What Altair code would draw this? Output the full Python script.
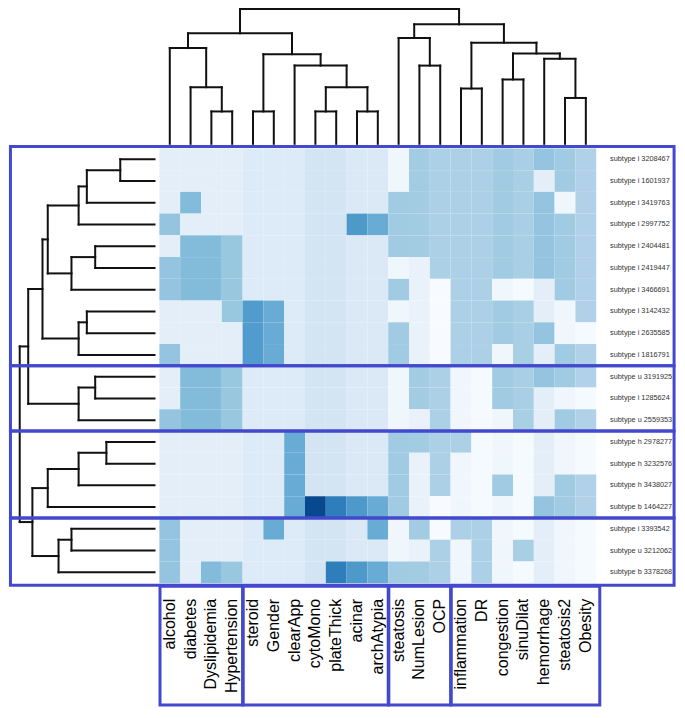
import altair as alt
import pandas as pd

# ---------------- data ----------------
col_labels = ["alcohol", "diabetes", "Dyslipidemia", "Hypertension", "steroid", "Gender",
              "clearApp", "cytoMono", "plateThick", "acinar", "archAtypia", "steatosis",
              "NumLesion", "OCP", "inflammation", "DR", "congestion", "sinuDilat",
              "hemorrhage", "steatosis2", "Obesity"]

row_labels = ["subtype i 3208467", "subtype i 1601937", "subtype i 3419763", "subtype i 2997752",
              "subtype i 2404481", "subtype i 2419447", "subtype i 3466691", "subtype i 3142432",
              "subtype i 2635585", "subtype i 1816791", "subtype u 3191925", "subtype i 1285624",
              "subtype u 2559353", "subtype h 2978277", "subtype h 3232576", "subtype h 3438027",
              "subtype b 1464227", "subtype i 3393542", "subtype u 3212062", "subtype b 3378268"]

values = [
    [.10, .10, .10, .10, .13, .13, .13, .18, .18, .14, .14, .04, .36, .33, .33, .33, .37, .34, .40, .37, .32],
    [.10, .10, .10, .10, .13, .13, .13, .18, .18, .14, .14, .04, .36, .33, .33, .33, .37, .34, .10, .37, .32],
    [.10, .44, .10, .10, .13, .13, .13, .18, .18, .14, .14, .37, .36, .33, .33, .33, .37, .34, .40, .04, .32],
    [.40, .10, .10, .10, .13, .13, .13, .18, .18, .59, .51, .37, .36, .33, .33, .33, .37, .34, .40, .37, .32],
    [.10, .44, .44, .39, .13, .13, .13, .18, .18, .14, .14, .37, .36, .33, .33, .33, .37, .34, .40, .37, .32],
    [.40, .44, .44, .39, .13, .13, .13, .18, .18, .14, .14, .04, .07, .33, .33, .33, .37, .34, .40, .37, .32],
    [.40, .44, .44, .39, .13, .13, .13, .18, .18, .14, .14, .37, .07, .00, .33, .33, .04, .01, .10, .37, .32],
    [.10, .10, .10, .39, .58, .51, .13, .18, .18, .14, .14, .04, .07, .00, .33, .33, .37, .34, .10, .04, .32],
    [.10, .10, .10, .10, .58, .51, .13, .18, .18, .14, .14, .37, .07, .00, .33, .33, .37, .34, .40, .04, .01],
    [.40, .10, .10, .10, .58, .51, .13, .18, .18, .14, .14, .37, .07, .00, .33, .33, .04, .34, .10, .37, .32],
    [.10, .44, .44, .39, .13, .13, .13, .18, .18, .14, .14, .04, .36, .33, .04, .01, .37, .34, .40, .37, .32],
    [.10, .44, .44, .39, .13, .13, .13, .18, .18, .14, .14, .04, .36, .33, .04, .01, .37, .34, .10, .04, .01],
    [.40, .44, .44, .39, .13, .13, .13, .18, .18, .14, .14, .04, .07, .33, .04, .01, .04, .34, .10, .37, .32],
    [.10, .10, .10, .10, .13, .13, .51, .18, .18, .14, .14, .37, .36, .33, .33, .01, .04, .01, .10, .04, .01],
    [.10, .10, .10, .10, .13, .13, .51, .18, .18, .14, .14, .37, .07, .33, .04, .01, .04, .01, .10, .04, .01],
    [.10, .10, .10, .10, .13, .13, .51, .18, .18, .14, .14, .37, .07, .33, .04, .01, .37, .01, .10, .37, .32],
    [.10, .10, .10, .10, .13, .13, .51, .91, .70, .59, .51, .37, .07, .00, .04, .01, .04, .01, .40, .37, .32],
    [.40, .10, .10, .10, .13, .51, .13, .18, .18, .14, .51, .04, .36, .00, .33, .33, .04, .01, .10, .04, .01],
    [.40, .10, .10, .10, .13, .13, .13, .18, .18, .14, .14, .04, .07, .33, .04, .33, .04, .34, .10, .04, .01],
    [.40, .10, .44, .39, .13, .13, .13, .18, .70, .59, .51, .37, .36, .33, .04, .33, .04, .01, .10, .04, .01],
]

# column dendrogram: (child a, child b, merge height); node ids follow scipy convention
col_merges = [(2, 3, .24), (1, 21, .42), (0, 22, .71), (4, 5, .24), (7, 8, .24), (9, 10, .24),
              (25, 26, .42), (6, 27, .58), (24, 28, .665), (23, 29, .82), (12, 13, .58),
              (11, 31, .785), (14, 15, .41), (16, 17, .477), (19, 20, .34), (18, 35, .63),
              (34, 36, .67), (33, 37, .75), (32, 38, .886), (30, 39, 1.0)]

# row dendrogram
row_merges = [(0, 1, .254), (20, 2, .502), (21, 3, .563), (4, 5, .44), (23, 6, .616),
              (22, 24, .792), (7, 8, .502), (26, 9, .563), (25, 27, .831), (10, 11, .44),
              (29, 12, .563), (28, 30, .937), (13, 14, .357), (32, 15, .563), (33, 16, .792),
              (17, 18, .616), (35, 19, .712), (34, 36, .906), (31, 37, 1.0)]

row_groups = [(0, 10), (10, 13), (13, 17), (17, 20)]
col_groups = [(0, 4), (4, 11), (11, 14), (14, 21)]

# ---------------- layout (reference pixel geometry -> chart units) ----------------
W, H = 669, 700
REF_W, REF_H = 685, 718
X0, CW = 155.0, 21.3     # heatmap left edge / column width (ref px)
Y0, RH = 144.0, 22.3     # heatmap top edge / row height (ref px)
x_dom = [(0 - X0) / CW, (REF_W - X0) / CW]
y_dom = [(0 - Y0) / RH, (REF_H - Y0) / RH]

def cx(px):
    return (px - X0) / CW

def ry(py):
    return (py - Y0) / RH

# heatmap table
cells = []
for i, rl in enumerate(row_labels):
    for j, cl in enumerate(col_labels):
        cells.append({"row": rl, "col": cl, "v": values[i][j],
                      "x": j, "x2": j + 1, "y": i, "y2": i + 1})
cells = pd.DataFrame(cells)

def dendro(n, merges):
    pos = {i: i + 0.5 for i in range(n)}
    hgt = {i: 0.0 for i in range(n)}
    segs = []
    for k, (a, b, h) in enumerate(merges):
        for c in (a, b):
            segs.append((pos[c], hgt[c], pos[c], h))
        segs.append((pos[a], h, pos[b], h))
        pos[n + k] = (pos[a] + pos[b]) / 2
        hgt[n + k] = h
    return segs

segs = []
for p1, h1, p2, h2 in dendro(len(col_labels), col_merges):
    segs.append({"x": p1, "x2": p2, "y": ry(139.3 - 138.3 * h1), "y2": ry(139.3 - 138.3 * h2)})
for p1, h1, p2, h2 in dendro(len(row_labels), row_merges):
    segs.append({"y": p1, "y2": p2, "x": cx(150 - 138 * h1), "x2": cx(150 - 138 * h2)})
segs = pd.DataFrame(segs)

rlab = pd.DataFrame({"label": row_labels, "x": cx(616.5),
                     "y": [i + 0.5 for i in range(len(row_labels))]})
clab = pd.DataFrame({"label": col_labels, "x": [j + 0.5 for j in range(len(col_labels))],
                     "y": ry(606)})

boxes = []
for k, (a, b) in enumerate(row_groups):
    boxes.append({"x": cx(2.5), "x2": cx(682),
                  "y": a - (0.09 if k == 0 else 0), "y2": b + (0.09 if k == len(row_groups) - 1 else 0)})
for k, (a, b) in enumerate(col_groups):
    boxes.append({"x": a + 0.03, "x2": b + (0.17 if k == len(col_groups) - 1 else 0),
                  "y": ry(593), "y2": ry(715)})
boxes = pd.DataFrame(boxes)

xs = alt.Scale(domain=x_dom, nice=False, zero=False)
ys = alt.Scale(domain=y_dom, nice=False, zero=False, reverse=True)
X = lambda f: alt.X(f, type="quantitative", scale=xs, axis=None)
Y = lambda f: alt.Y(f, type="quantitative", scale=ys, axis=None)

blues = ["#f7fbff", "#deebf7", "#c6dbef", "#9ecae1", "#6baed6", "#4292c6", "#2171b5", "#08519c", "#08306b"]
cdom = [i / 8 for i in range(9)]

heat = alt.Chart(cells).mark_rect(strokeWidth=0).encode(
    x=X("x"), x2="x2", y=Y("y"), y2="y2",
    color=alt.Color("v:Q", scale=alt.Scale(domain=cdom, range=blues, interpolate="rgb"), legend=None),
)

tree = alt.Chart(segs).mark_rule(color="#111111", strokeWidth=2, strokeCap="square").encode(
    x=X("x"), x2="x2", y=Y("y"), y2="y2")

rtext = alt.Chart(rlab).mark_text(align="left", baseline="middle", fontSize=7.3,
                                   font="Liberation Sans", color="#333333").encode(
    x=X("x"), y=Y("y"), text="label")

ctext = alt.Chart(clab).mark_text(align="right", baseline="middle", angle=270, fontSize=16,
                                   font="Liberation Sans", color="#000000").encode(
    x=X("x"), y=Y("y"), text="label")

frames = alt.Chart(boxes).mark_rect(filled=False, stroke="#4349cd", strokeWidth=3).encode(
    x=X("x"), x2="x2", y=Y("y"), y2="y2")

chart = alt.layer(heat, tree, rtext, ctext, frames).properties(
    width=W, height=H, padding=0,
    autosize=alt.AutoSizeParams(type="none"),
    background="white",
).configure_view(stroke=None)

chart.save("out.html", embed_options={"renderer": "svg", "actions": False})
